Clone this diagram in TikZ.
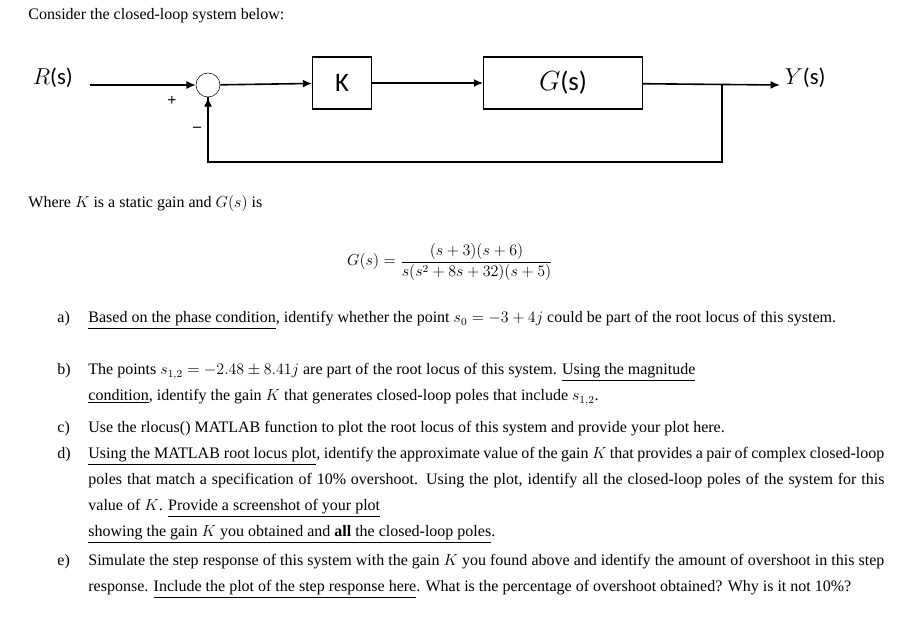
\documentclass[tikz,border=0pt]{standalone}
\usepackage{fontspec}
\setmainfont{Liberation Serif}
\newfontfamily\blockfont{Carlito}
\usetikzlibrary{positioning,arrows.meta}
\newcommand{\ul}[1]{\underline{#1}}

\begin{document}
\begin{tikzpicture}[x=0.75pt, y=-0.75pt, semithick,
  font=\fontsize{12}{19.5}\selectfont]
  \tikzstyle{block} = [rectangle, draw, thick, inner sep=0pt, font=\blockfont\fontsize{20}{22}\selectfont]
  \tikzstyle{sum} = [circle, draw, thin, minimum size=18pt, inner sep=0pt]
  \tikzstyle{line} = [draw, very thick, -{Latex[length=7pt,width=6pt]}]
  \tikzstyle{sig} = [font=\blockfont\fontsize{17}{20}\selectfont]
  \tikzstyle{para} = [anchor=north west, inner sep=0pt, text width=597pt, align=justify]
  \tikzstyle{tag} = [anchor=north west, inner sep=0pt]

  \useasboundingbox (0,0) rectangle (905,635);

  % Place nodes
  \node [tag] (intro) at (28,8) {Consider the closed-loop system below:};
  \node [sig, anchor=west] (in) at (28,78) {$R$(s)};
  \node [sum] (add) at (208,85) {};
  \node [block, minimum width=44pt, minimum height=39pt] (gain) at (342,83) {K};
  \node [block, minimum width=119pt, minimum height=39pt] (plant) at (563,83) {$G$(s)};
  \node [sig, anchor=west] (out) at (780,78) {$Y$(s)};
  \coordinate (split) at (722,85);
  \coordinate (low) at (722,162);
  \node [font=\bfseries\large] (plus) at (172,101) {+};
  \node [font=\bfseries\large] (minus) at (197,129) {--};

  \node [tag] (where) at (28,195) {Where $K$ is a static gain and $G(s)$ is};
  \node (eq) at (450,262) {$\displaystyle G(s)=\frac{(s+3)(s+6)}{s(s^2+8s+32)(s+5)}$};

  \node [tag] (la) at (57,311) {a)};
  \node [para] (ta) at (88,311) {\ul{Based on the phase condition}, identify whether the point $s_0=-3+4j$ could be part of the root locus of this system.};
  \node [tag] (lb) at (57,363) {b)};
  \node [para] (tb) at (88,363) {The points $s_{1,2}=-2.48\pm8.41j$ are part of the root locus of this system. \ul{Using the magnitude}\\ \ul{condition}, identify the gain $K$ that generates closed-loop poles that include $s_{1,2}$.};
  \node [tag] (lc) at (57,421) {c)};
  \node [para] (tc) at (88,421) {Use the rlocus() MATLAB function to plot the root locus of this system and provide your plot here.};
  \node [tag] (ld) at (57,447) {d)};
  \node [para] (td) at (88,447) {\ul{Using the MATLAB root locus plot}, identify the approximate value of the gain $K$ that provides a pair of complex closed-loop poles that match a specification of 10\% overshoot. Using the plot, identify all the closed-loop poles of the system for this value of $K$. \ul{Provide a screenshot of your plot}\\ \ul{showing the gain $K$ you obtained and \textbf{all} the closed-loop poles}.};
  \node [tag] (le) at (57,554) {e)};
  \node [para] (te) at (88,554) {Simulate the step response of this system with the gain $K$ you found above and identify the amount of overshoot in this step response. \ul{Include the plot of the step response here}. What is the percentage of overshoot obtained? Why is it not 10\%?};

  % Draw edges
  \path [line] (in.east |- add) ++(12,0) -- (add);
  \path [line] (add) -- (gain);
  \path [line] (gain) -- (plant);
  \path [line] (plant) -- (out.west |- add);
  \draw [very thick] (split) -- (low) -| (add);
  \path [line] (low -| add) -- (add);
\end{tikzpicture}
\end{document}
